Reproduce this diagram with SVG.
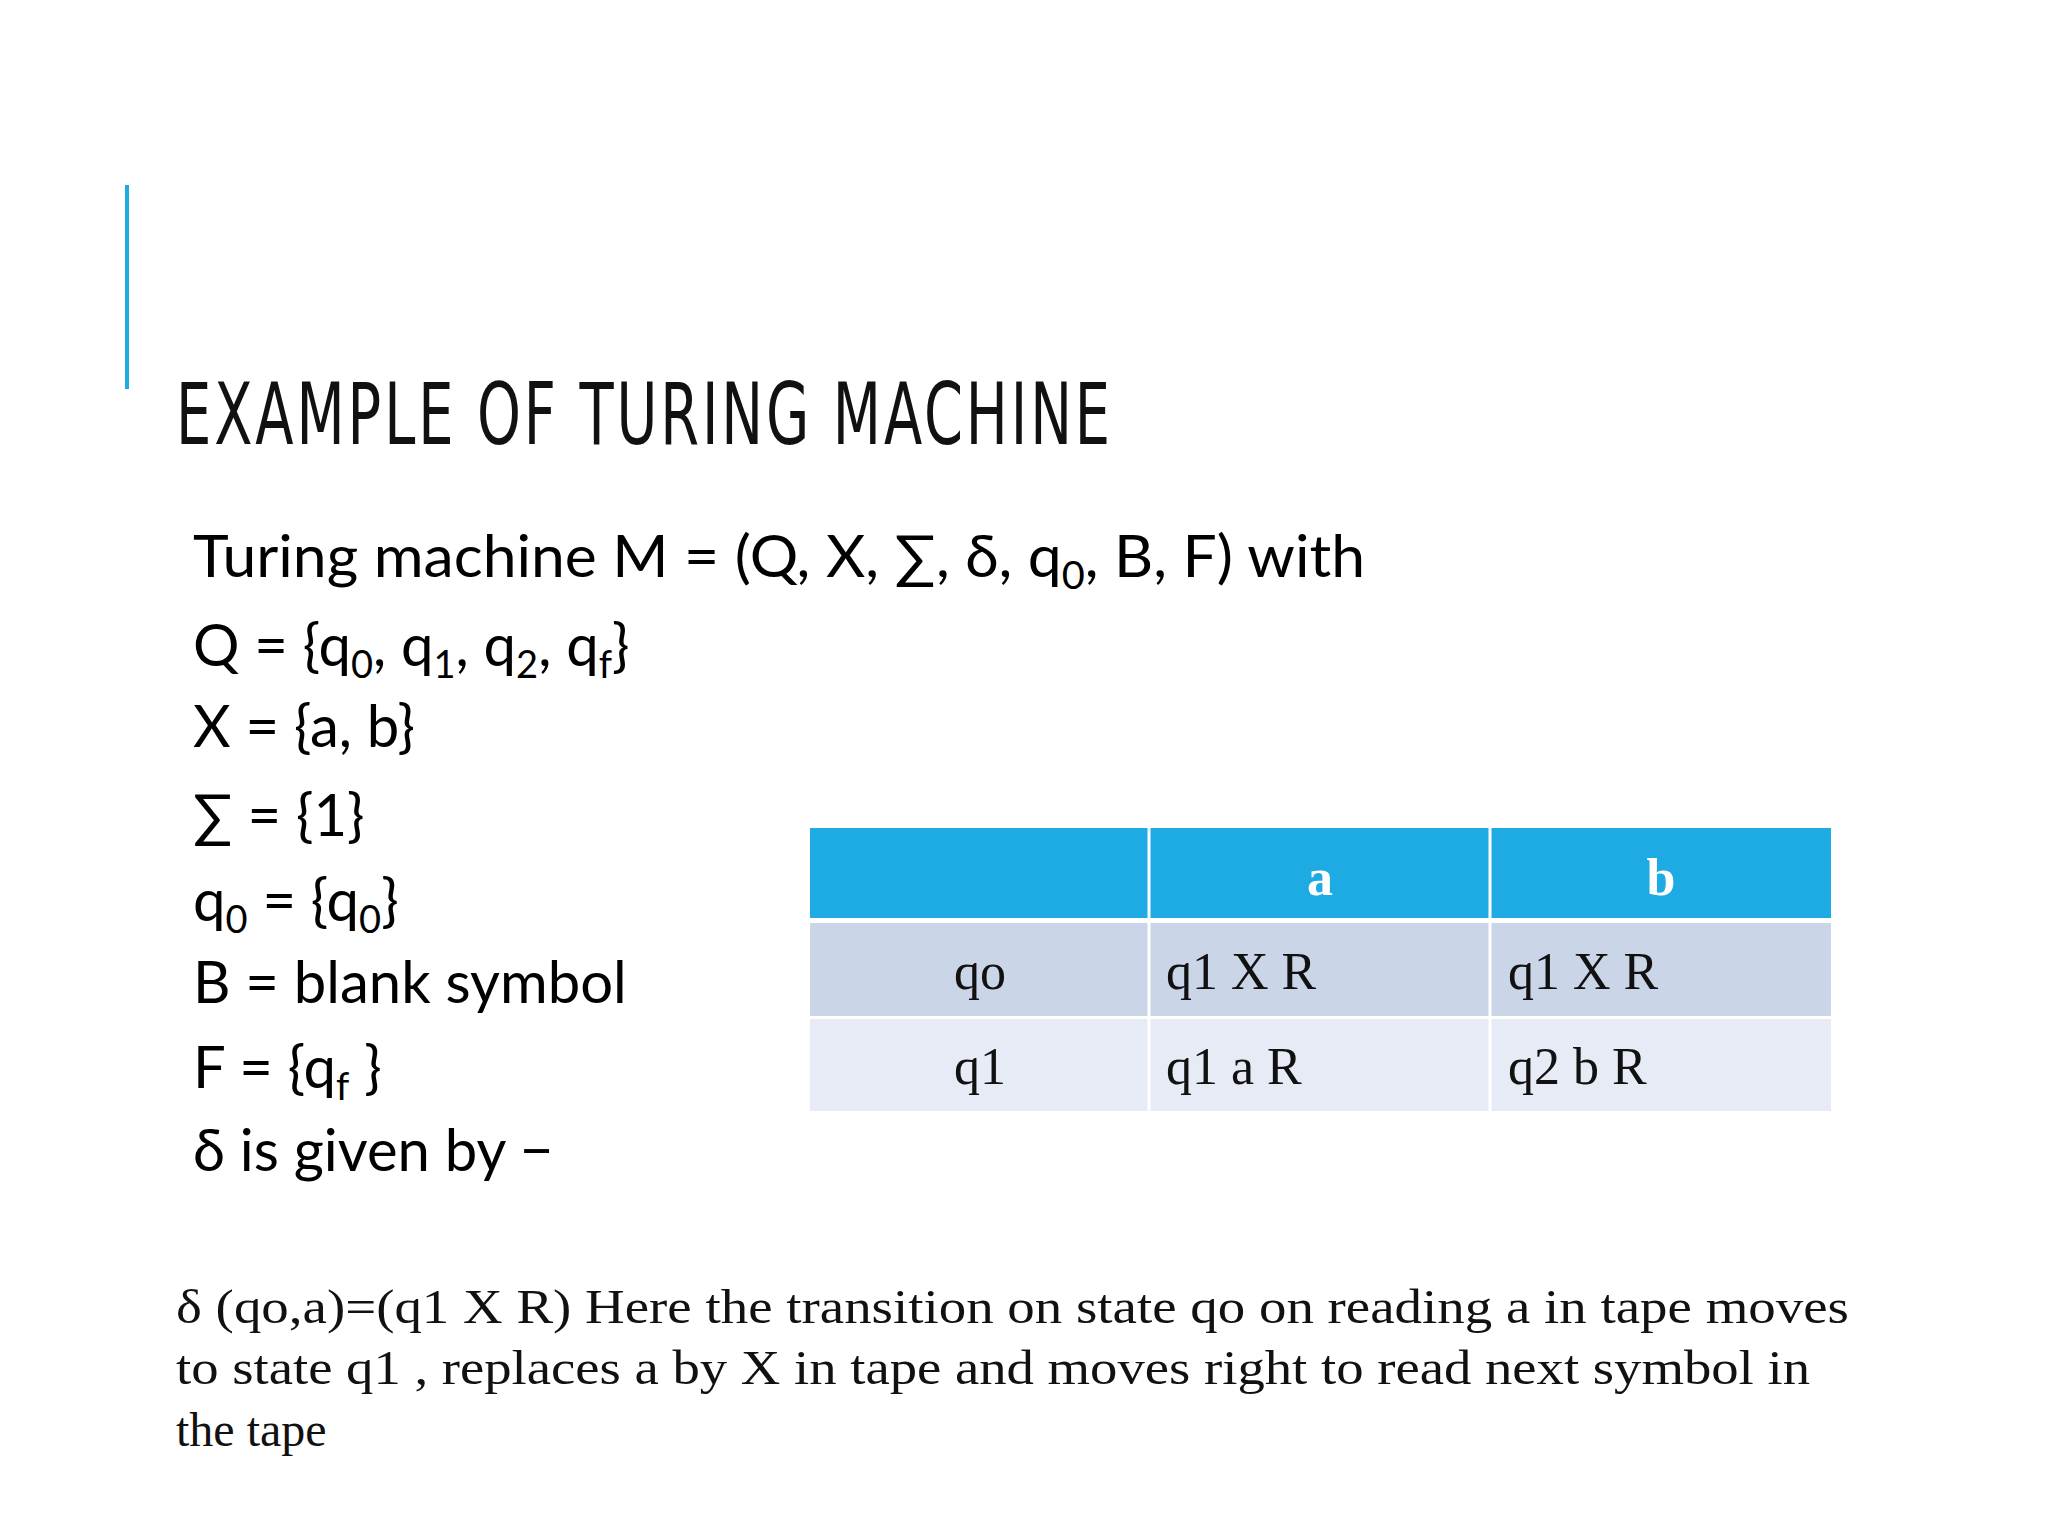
<svg xmlns="http://www.w3.org/2000/svg" width="2048" height="1536" viewBox="0 0 2048 1536">
<style>
.s{font-family:Lato,"Open Sans",sans-serif;font-size:58px;fill:#000}
.sub{font-size:38px}
.t{font-family:"Liberation Serif",serif;font-size:52px;fill:#111}
.h{font-family:"Liberation Serif",serif;font-size:52px;font-weight:bold;fill:#fff}
.p{font-family:"Liberation Serif",serif;font-size:48px;fill:#111}
</style>
<rect width="2048" height="1536" fill="#fff"/>
<rect x="125" y="185" width="4" height="204" fill="#1EAAE2"/>
<text x="176" y="444" font-family="'DejaVu Sans Condensed','DejaVu Sans',sans-serif" font-size="86" letter-spacing="4" textLength="937" lengthAdjust="spacingAndGlyphs" fill="#111">EXAMPLE OF TURING MACHINE</text>
<g id="definitions">
<text class="s" x="193" y="577" textLength="1172" lengthAdjust="spacingAndGlyphs">Turing machine M = (Q, X, ∑, δ, q<tspan class="sub" dy="12">0</tspan><tspan dy="-12">, B, F) with</tspan></text>
<text class="s" x="193" y="666">Q = {q<tspan class="sub" dy="12">0</tspan><tspan dy="-12">, q</tspan><tspan class="sub" dy="12">1</tspan><tspan dy="-12">, q</tspan><tspan class="sub" dy="12">2</tspan><tspan dy="-12">, q</tspan><tspan class="sub" dy="12">f</tspan><tspan dy="-12">}</tspan></text>
<text class="s" x="193" y="747">X = {a, b}</text>
<text class="s" x="193" y="836">∑ = {1}</text>
<text class="s" x="193" y="921">q<tspan class="sub" dy="12">0</tspan><tspan dy="-12"> = {q</tspan><tspan class="sub" dy="12">0</tspan><tspan dy="-12">}</tspan></text>
<text class="s" x="193" y="1003">B = blank symbol</text>
<text class="s" x="193" y="1088">F = {q<tspan class="sub" dy="12">f</tspan><tspan dy="-12"> }</tspan></text>
<text class="s" x="193" y="1171">δ is given by −</text>
</g>
<g id="table">
<rect x="810" y="828" width="1021" height="90" fill="#1EAAE2"/>
<rect x="810" y="923" width="1021" height="93" fill="#CBD5E8"/>
<rect x="810" y="1019" width="1021" height="92" fill="#E7EBF5"/>
<g stroke="#fff" stroke-width="3">
<line x1="1149" y1="828" x2="1149" y2="1111"/>
<line x1="1490" y1="828" x2="1490" y2="1111"/>
</g>
<text class="h" x="1320" y="895" text-anchor="middle">a</text>
<text class="h" x="1661" y="895" text-anchor="middle">b</text>
<text class="t" x="980" y="989" text-anchor="middle">qo</text>
<text class="t" x="1166" y="989">q1 X R</text>
<text class="t" x="1508" y="989">q1  X R</text>
<text class="t" x="980" y="1084" text-anchor="middle">q1</text>
<text class="t" x="1166" y="1084">q1  a R</text>
<text class="t" x="1508" y="1084">q2  b R</text>
</g>
<g id="explanation">
<text class="p" x="176" y="1323" textLength="1673" lengthAdjust="spacingAndGlyphs">δ (qo,a)=(q1 X R) Here the transition on state qo on reading a in tape moves</text>
<text class="p" x="176" y="1384" textLength="1634" lengthAdjust="spacingAndGlyphs">to state q1 , replaces a by X in tape and moves right to read next symbol in</text>
<text class="p" x="176" y="1446">the tape</text>
</g>
</svg>
